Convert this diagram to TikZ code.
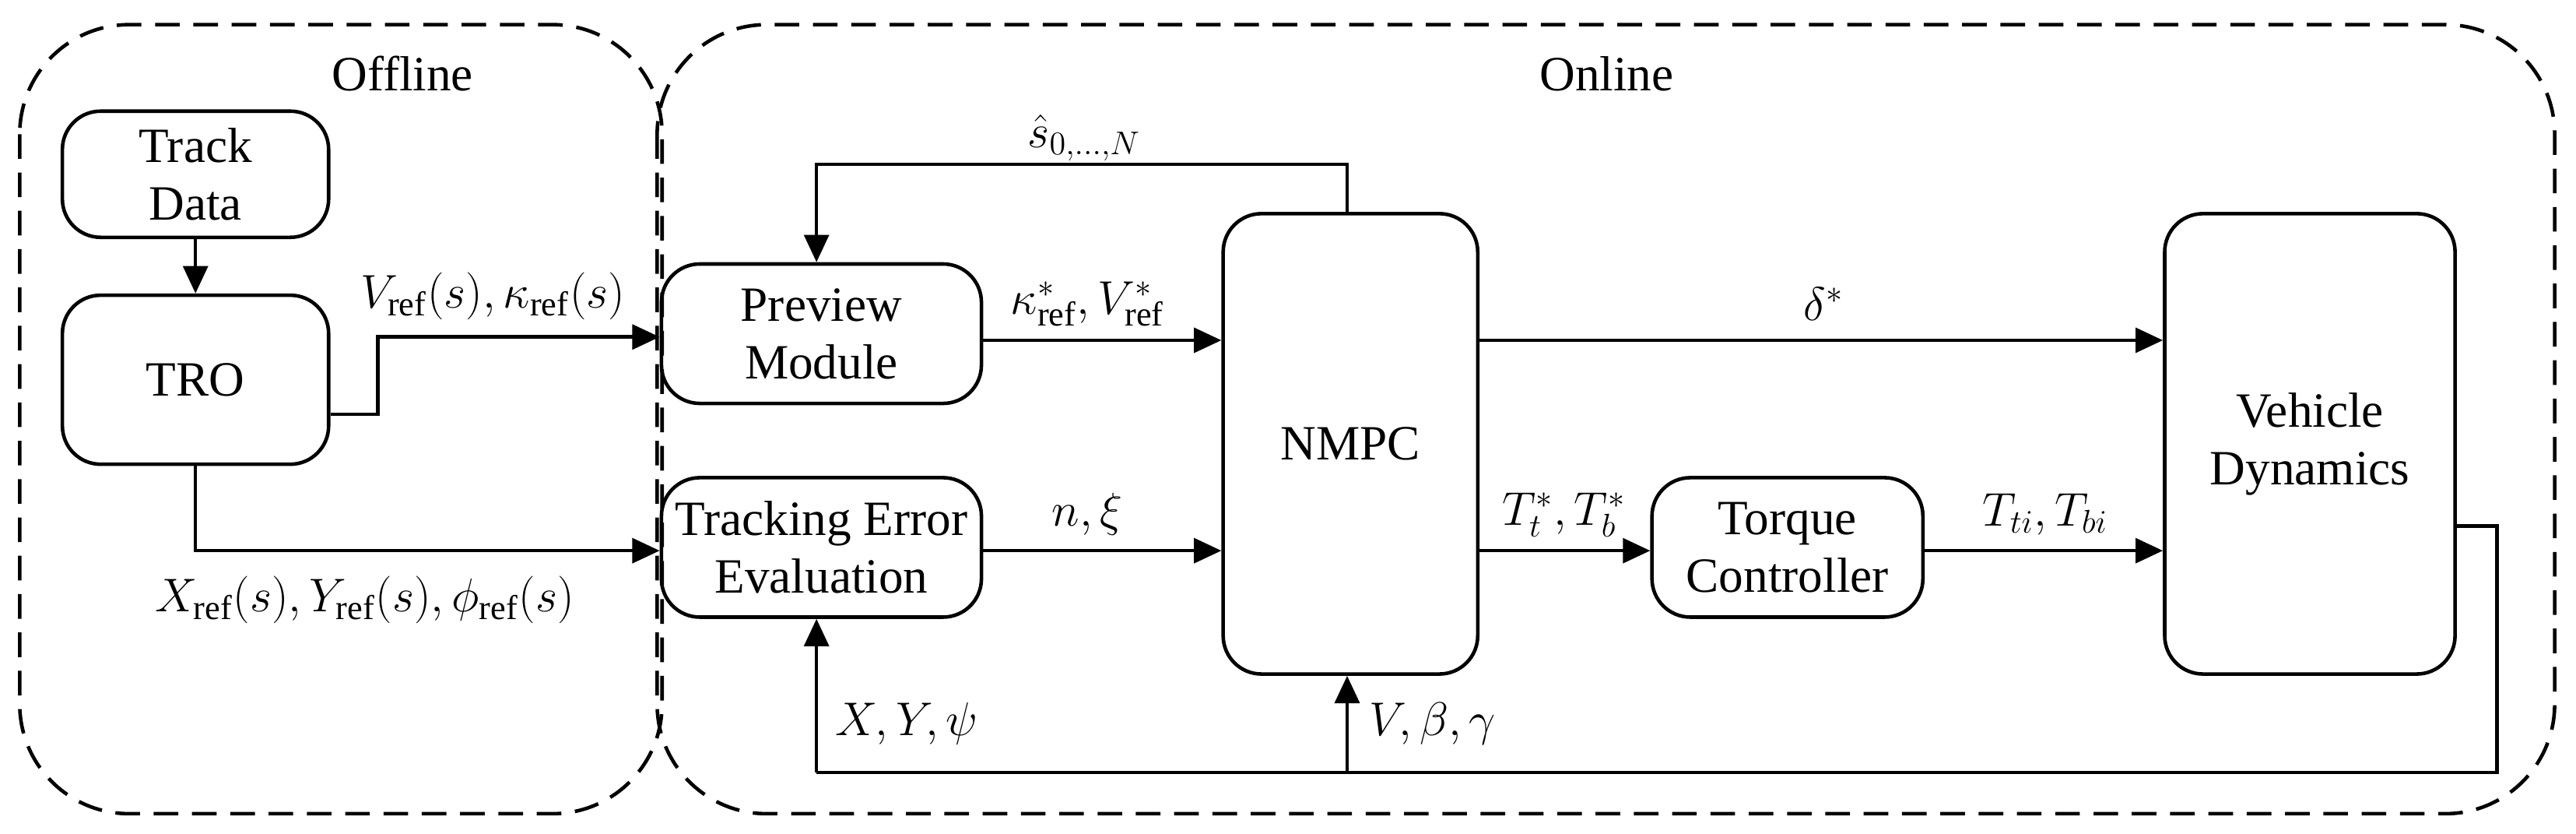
\documentclass[tikz,border=0pt]{standalone}
\usepackage{fontspec}
\setmainfont{Liberation Serif}
\usetikzlibrary{arrows.meta}
\begin{document}
\begin{tikzpicture}[x=0.0211cm,y=-0.0211cm,
  font=\fontsize{18}{21}\selectfont,
  blk/.style={draw,line width=1.3pt,rounded corners=14pt,align=center,inner sep=0pt},
  grp/.style={draw,line width=1.3pt,dashed,dash pattern=on 9pt off 5pt,rounded corners=40pt},
  ar/.style={line width=1.3pt,-{Triangle[length=10pt,width=9pt]}},
  ln/.style={line width=1.3pt}]
\useasboundingbox (0,0) rectangle (1568,507);
\draw[grp] (12,15) rectangle (403,495);
\draw[grp] (400,15) rectangle (1555,495);
\node at (245,45) {Offline};
\node at (978,45) {Online};
\node[blk,minimum width=3.42cm,minimum height=1.62cm] (td) at (119,106) {Track\\Data};
\node[blk,minimum width=3.42cm,minimum height=2.17cm] (tro) at (119,231) {TRO};
\node[blk,minimum width=4.11cm,minimum height=1.79cm] (pm) at (500,203) {Preview\\Module};
\node[blk,minimum width=4.11cm,minimum height=1.79cm] (te) at (500,333) {Tracking Error\\Evaluation};
\node[blk,minimum width=3.27cm,minimum height=5.91cm] (nm) at (822,270) {NMPC};
\node[blk,minimum width=3.48cm,minimum height=1.79cm] (tc) at (1088,333) {Torque\\Controller};
\node[blk,minimum width=3.73cm,minimum height=5.91cm] (vd) at (1406,270) {Vehicle\\Dynamics};
\coordinate (c1) at (1520,470);
\coordinate (c2) at (820,470);
\coordinate (c3) at (497,470);
% connectors
\draw[ar] (td) -- (tro);
\draw[ar] (tro.east|-119,252) -- (230,252) -- (230,205) -- (pm.west|-0,205);
\node at (300,180) {$V_{\mathrm{ref}}(s),\kappa_{\mathrm{ref}}(s)$};
\draw[ar] (tro.south) -- (119,335) -- (te.west|-0,335);
\node at (222,365) {$X_{\mathrm{ref}}(s),Y_{\mathrm{ref}}(s),\phi_{\mathrm{ref}}(s)$};
\draw[ar] (pm.east|-0,207) -- (nm.west|-0,207);
\node at (662,185) {$\kappa^*_{\mathrm{ref}},V^*_{\mathrm{ref}}$};
\draw[ar] (te.east|-0,335) -- (nm.west|-0,335);
\node at (662,313) {$n,\xi$};
\draw[ar] (nm.north-|820,0) -- (820,100) -- (497,100) -- (pm.north-|497,0);
\node at (660,84) {$\hat{s}_{0,\ldots,N}$};
\draw[ar] (nm.east|-0,207) -- (vd.west|-0,207);
\node at (1110,185) {$\delta^*$};
\draw[ar] (nm.east|-0,335) -- (tc.west|-0,335);
\node at (952,313) {$T^*_t,T^*_b$};
\draw[ar] (tc.east|-0,335) -- (vd.west|-0,335);
\node at (1245,313) {$T_{ti},T_{bi}$};
\draw[ln] (vd.east|-0,320) -- (c1|-0,320) -- (c1) -- (c3);
\draw[ar] (c3) -- (te.south-|497,0);
\draw[ar] (c2) -- (nm.south-|820,0);
\node at (552,440) {$X,Y,\psi$};
\node at (872,440) {$V,\beta,\gamma$};
\end{tikzpicture}
\end{document}
